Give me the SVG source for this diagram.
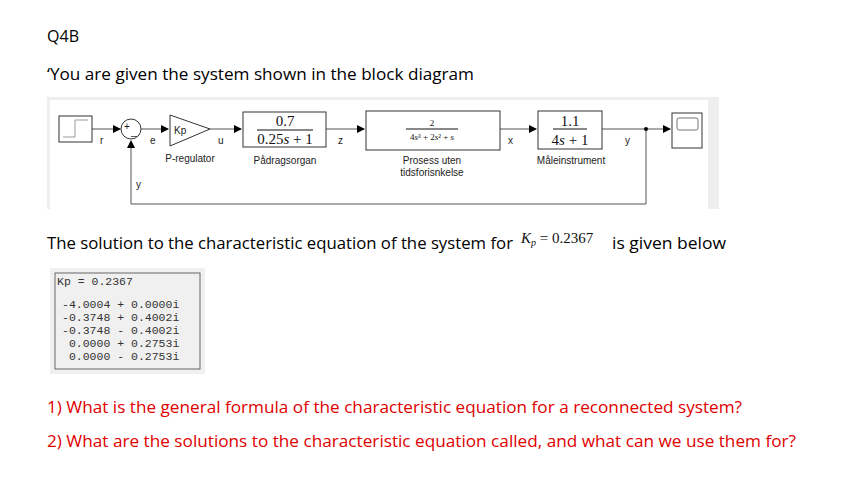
<svg xmlns="http://www.w3.org/2000/svg" width="843" height="496" viewBox="0 0 843 496">
<defs>
<style>
.t{font-family:"Open Sans","Liberation Sans",sans-serif;font-size:17px;fill:#000}
.q{font-family:"Open Sans","Liberation Sans",sans-serif;font-size:17px;fill:#e00000}
.s{font-family:"Liberation Sans",Arial,sans-serif;font-size:10px;fill:#222}
.m{font-family:"Liberation Serif",serif;fill:#111}
.c{font-family:"Liberation Mono",monospace;font-size:11.5px;fill:#333;white-space:pre}
.blk{fill:#fff;stroke:#333;stroke-width:1}
.ln{stroke:#555;stroke-width:1;fill:none}
</style>
<marker id="a" markerWidth="8" markerHeight="8" refX="7" refY="4" orient="auto" markerUnits="userSpaceOnUse"><path d="M0,0 L8,4 L0,8 z" fill="#000"/></marker>
</defs>
<rect width="843" height="496" fill="#fff"/>
<text class="t" x="47" y="42" textLength="32" lengthAdjust="spacingAndGlyphs">Q4B</text>
<text class="t" x="47" y="80" textLength="427" lengthAdjust="spacingAndGlyphs">‘You are given the system shown in the block diagram</text>
<rect x="47" y="97" width="672" height="112" fill="#eeeeee"/>
<rect x="50" y="100" width="658" height="109" fill="#fff"/>
<g id="connectors">
<path class="ln" d="M92,129 H120" marker-end="url(#a)"/>
<path class="ln" d="M141,129 H168" marker-end="url(#a)"/>
<path class="ln" d="M210,129 H241" marker-end="url(#a)"/>
<path class="ln" d="M326,129 H364" marker-end="url(#a)"/>
<path class="ln" d="M500,129 H536" marker-end="url(#a)"/>
<path class="ln" d="M602,129 H670" marker-end="url(#a)"/>
<path class="ln" d="M646,129 V204 H131 V141" marker-end="url(#a)"/>
<circle cx="646" cy="129" r="2" fill="#000"/>
<text class="s" x="100" y="144">r</text>
<text class="s" x="150" y="144">e</text>
<text class="s" x="218" y="144">u</text>
<text class="s" x="338" y="144">z</text>
<text class="s" x="508" y="144">x</text>
<text class="s" x="625" y="144">y</text>
<text class="s" x="136" y="188">y</text>
</g>
<g id="step"><rect class="blk" x="59" y="116" width="33" height="26"/><path d="M63,137 H75 V120 H88" stroke="#999" fill="none"/></g>
<g id="sum"><circle class="blk" cx="131" cy="129" r="10"/><text class="s" x="124" y="130" font-size="8">+</text><text class="s" x="131" y="135" font-size="8">_</text></g>
<g id="kp"><path class="blk" d="M170,115 L210,129 L170,146 z"/><text class="s" x="174" y="134">Kp</text><text class="s" x="190" y="162" text-anchor="middle">P-regulator</text></g>
<g id="padrag"><rect class="blk" x="243" y="112" width="83" height="35"/><text class="m" x="285" y="126" font-size="15" text-anchor="middle">0.7</text><path d="M257,130 H313" stroke="#111"/><text class="m" x="285" y="144" font-size="15" text-anchor="middle">0.25<tspan font-style="italic">s</tspan> + 1</text><text class="s" x="285" y="164" text-anchor="middle">Pådragsorgan</text></g>
<g id="prosess"><rect class="blk" x="366" y="111" width="134" height="39"/><text class="m" x="432" y="126" font-size="9" text-anchor="middle">2</text><path d="M406,129 H458" stroke="#111"/><text class="m" x="432" y="140" font-size="9" text-anchor="middle">4<tspan font-style="italic">s</tspan>³ + 2<tspan font-style="italic">s</tspan>² + <tspan font-style="italic">s</tspan></text><text class="s" x="432" y="164" text-anchor="middle">Prosess uten</text><text class="s" x="432" y="176" text-anchor="middle">tidsforisnkelse</text></g>
<g id="male"><rect class="blk" x="538" y="111" width="64" height="38"/><text class="m" x="570" y="126" font-size="15" text-anchor="middle">1.1</text><path d="M553,129 H587" stroke="#111"/><text class="m" x="570" y="145" font-size="15" text-anchor="middle">4<tspan font-style="italic">s</tspan> + 1</text><text class="s" x="571" y="164" text-anchor="middle">Måleinstrument</text></g>
<g id="scope"><rect class="blk" x="672" y="113" width="30" height="35"/><rect x="677" y="118" width="21" height="12" rx="2" fill="#fff" stroke="#777"/></g>
<text class="t" x="47" y="249" textLength="466" lengthAdjust="spacingAndGlyphs">The solution to the characteristic equation of the system for</text>
<text class="m" x="521" y="243" font-size="15"><tspan font-style="italic">K</tspan><tspan font-size="10" font-style="italic" dy="3">p</tspan><tspan dy="-3"> = 0.2367</tspan></text>
<text class="t" x="612" y="249" textLength="114" lengthAdjust="spacingAndGlyphs">is given below</text>
<rect x="50" y="268" width="155" height="106" fill="#f0f0f0"/>
<rect x="55" y="273" width="145" height="96" fill="none" stroke="#666"/>
<text class="c" x="57" y="285">Kp = 0.2367</text>
<text class="c" x="62" y="308">-4.0004 + 0.0000i</text>
<text class="c" x="62" y="321">-0.3748 + 0.4002i</text>
<text class="c" x="62" y="334">-0.3748 - 0.4002i</text>
<text class="c" x="62" y="347"> 0.0000 + 0.2753i</text>
<text class="c" x="62" y="360"> 0.0000 - 0.2753i</text>
<text class="q" x="47" y="413" textLength="695" lengthAdjust="spacingAndGlyphs">1) What is the general formula of the characteristic equation for a reconnected system?</text>
<text class="q" x="47" y="447" textLength="749" lengthAdjust="spacingAndGlyphs">2) What are the solutions to the characteristic equation called, and what can we use them for?</text>
</svg>
